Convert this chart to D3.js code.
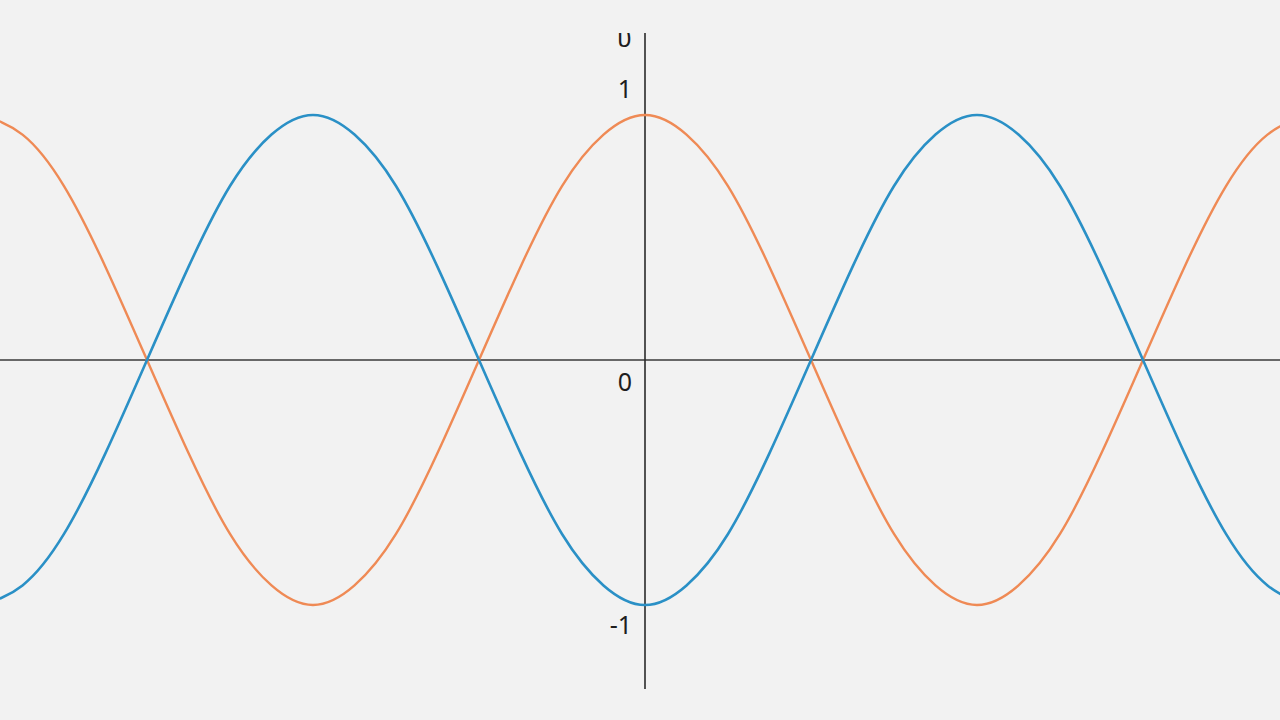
<!DOCTYPE html>
<html lang="en">
	<head>
		<meta charset="UTF-8">
		<title>Two waves</title>
		<style>
			body, html {
				margin: 0;
				padding: 0;
				background-color: #f2f2f2;
			}
			svg { display: block; }
		</style>
	</head>
	<body>
		<svg id="svg" width="1280" height="720"></svg>

		<script src="https://d3js.org/d3.v7.min.js"></script>
		<script>
			// x in quarter periods, every 1/4 step
			const xs = [-4, -3.75, -3.5, -3.25, -3, -2.75, -2.5, -2.25, -2, -1.75, -1.5, -1.25, -1, -0.75, -0.5, -0.25,
				0, 0.25, 0.5, 0.75, 1, 1.25, 1.5, 1.75, 2, 2.25, 2.5, 2.75, 3, 3.25, 3.5, 3.75, 4]
			const orange = [1, 0.92, 0.71, 0.38, 0, -0.38, -0.71, -0.92, -1, -0.92, -0.71, -0.38, 0, 0.38, 0.71, 0.92,
				1, 0.92, 0.71, 0.38, 0, -0.38, -0.71, -0.92, -1, -0.92, -0.71, -0.38, 0, 0.38, 0.71, 0.92, 1]
			const blue = [-1, -0.92, -0.71, -0.38, 0, 0.38, 0.71, 0.92, 1, 0.92, 0.71, 0.38, 0, -0.38, -0.71, -0.92,
				-1, -0.92, -0.71, -0.38, 0, 0.38, 0.71, 0.92, 1, 0.92, 0.71, 0.38, 0, -0.38, -0.71, -0.92, -1]
			const yTicks = [1, 0, -1]
			const yTickLabels = ['1', '0', '-1']
			const axisName = 'υ'

			const svg = d3.select('#svg')
			const x = d3.scaleLinear().domain([-1, 1]).range([479, 811])
			const y = d3.scaleLinear().domain([-1, 1]).range([605, 115])

			const line = vals => d3.line()
				.x((d, i) => x(xs[i]))
				.y(d => y(d))
				.curve(d3.curveNatural)(vals)

			// axes
			svg.append('line')
				.attr('x1', 0).attr('x2', 1280)
				.attr('y1', y(0)).attr('y2', y(0))
				.attr('stroke', '#3a3a3a').attr('stroke-width', 1.6)
			svg.append('line')
				.attr('x1', x(0)).attr('x2', x(0))
				.attr('y1', 33).attr('y2', 689)
				.attr('stroke', '#2a2a2a').attr('stroke-width', 1.6)

			svg.append('path')
				.attr('d', line(orange))
				.attr('fill', 'none')
				.attr('stroke', '#ef8a55')
				.attr('stroke-width', 2.4)
			svg.append('path')
				.attr('d', line(blue))
				.attr('fill', 'none')
				.attr('stroke', '#2a90c6')
				.attr('stroke-width', 2.6)

			// tick labels sit off the ticks, as in the drawing
			const labelDy = { '1': -17, '0': 31, '-1': 29 }
			svg.selectAll('text.tick')
				.data(yTicks)
				.enter()
				.append('text')
				.attr('class', 'tick')
				.attr('x', (d, i) => x(0) - 13)
				.attr('y', d => y(d) + labelDy[String(d)])
				.attr('text-anchor', 'end')
				.attr('font-family', 'Noto Sans, sans-serif')
				.attr('font-size', 25)
				.attr('fill', '#1e1e1e')
				.text((d, i) => yTickLabels[i])

			svg.append('text')
				.attr('x', x(0) - 13)
				.attr('y', 47)
				.attr('text-anchor', 'end')
				.attr('font-family', 'Noto Sans, sans-serif')
				.attr('font-size', 25)
				.attr('fill', '#1e1e1e')
				.text(axisName)
		</script>
	</body>
</html>
